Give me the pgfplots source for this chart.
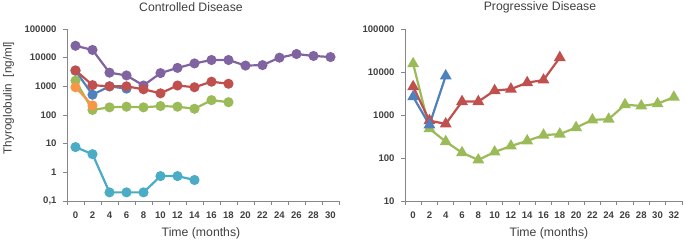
\documentclass[border=0pt]{standalone}
\usepackage{pgfplots}
\pgfplotsset{compat=1.18}
\usepackage{fontspec}
\setmainfont{Liberation Sans}
\definecolor{xblue}{HTML}{4F81BD}
\definecolor{xred}{HTML}{C0504D}
\definecolor{xgreen}{HTML}{9BBB59}
\definecolor{xpurple}{HTML}{8064A2}
\definecolor{xteal}{HTML}{4BACC6}
\definecolor{xorange}{HTML}{F79646}
\definecolor{axisgray}{HTML}{868686}
\definecolor{txt}{HTML}{404040}
\pgfplotsset{
  lc/.style={line width=2.2bp, mark=*, mark size=3.9bp, mark options={solid}},
  lt/.style={line width=2.2bp, mark=triangle*, mark size=4.7bp, mark options={solid}},
}
\begin{document}
\begin{tikzpicture}
\useasboundingbox (0,0) rectangle (685bp,244bp);
% Left panel
\begin{axis}[at={(67bp,43bp)}, anchor=south west, scale only axis, width=272bp, height=172bp,
  ymode=log, log basis y=10,
  axis x line*=bottom, axis y line*=left,
  axis line style={draw=axisgray, line width=0.8bp, -},
  tick align=outside, major tick length=4bp, minor tick length=4bp,
  tick style={draw=axisgray, line width=0.8bp},
  major x tick style={draw=none},
  minor y tick num=0,
  ticklabel style={font=\fontsize{9.6}{10}\selectfont\bfseries, color=txt},
  xticklabel style={yshift=-3bp},
  yticklabel style={xshift=-3bp},
  clip=false,
  xmin=-1, xmax=31, ymin=0.1, ymax=100000,
  xtick={0,2,...,30}, xticklabels={0,2,4,6,8,10,12,14,16,18,20,22,24,26,28,30},
  minor xtick={-1,1,...,31},
  ytick={0.1,1,10,100,1000,10000,100000},
  yticklabels={{0,1},1,10,100,1000,10000,100000},
]
\addplot[lc, color=xpurple] coordinates {(0,26000)(2,18600)(4,3000)(6,2400)(8,1070)(10,2900)(12,4400)(14,6300)(16,8300)(18,8300)(20,5300)(22,5500)(24,10000)(26,13400)(28,11500)(30,10500)};
\addplot[lc, color=xblue] coordinates {(0,3500)(2,510)(4,1000)(6,830)};
\addplot[lc, color=xred] coordinates {(0,3600)(2,1100)(4,1000)(6,1000)(8,790)(10,570)(12,1070)(14,930)(16,1450)(18,1230)};
\addplot[lc, color=xgreen] coordinates {(0,1580)(2,150)(4,185)(6,195)(8,185)(10,205)(12,195)(14,165)(16,330)(18,280)};
\addplot[lc, color=xorange] coordinates {(0,930)(2,215)};
\addplot[lc, color=xteal] coordinates {(0,7.6)(2,4.3)(4,0.2)(6,0.2)(8,0.2)(10,0.74)(12,0.74)(14,0.54)};
\end{axis}
% Right panel
\begin{axis}[at={(405bp,43bp)}, anchor=south west, scale only axis, width=277bp, height=172bp,
  ymode=log, log basis y=10,
  axis x line*=bottom, axis y line*=left,
  axis line style={draw=axisgray, line width=0.8bp, -},
  tick align=outside, major tick length=4bp, minor tick length=4bp,
  tick style={draw=axisgray, line width=0.8bp},
  major x tick style={draw=none},
  minor y tick num=0,
  ticklabel style={font=\fontsize{9.6}{10}\selectfont\bfseries, color=txt},
  xticklabel style={yshift=-3bp},
  yticklabel style={xshift=-3bp},
  clip=false,
  xmin=-1, xmax=33, ymin=10, ymax=100000,
  xtick={0,2,...,32}, xticklabels={0,2,4,6,8,10,12,14,16,18,20,22,24,26,28,30,32},
  minor xtick={-1,1,...,33},
  ytick={10,100,1000,10000,100000},
  yticklabels={10,100,1000,10000,100000},
]
\addplot[lt, color=xgreen] coordinates {(0,15600)(2,480)(4,240)(6,133)(8,90)(10,138)(12,190)(14,250)(16,340)(18,360)(20,510)(22,770)(24,800)(26,1740)(28,1620)(30,1830)(32,2600)};
\addplot[lt, color=xred] coordinates {(0,4550)(2,740)(4,620)(6,2050)(8,2050)(10,3700)(12,4000)(14,5650)(16,6500)(18,21600)};
\addplot[lt, color=xblue] coordinates {(0,2650)(2,590)(4,8100)};
\end{axis}
% Titles and labels
\node[font=\fontsize{12.3}{14}\selectfont, color=txt] at (191bp,237bp) {Controlled Disease};
\node[font=\fontsize{12.3}{14}\selectfont, color=txt] at (540bp,237bp) {Progressive Disease};
\node[font=\fontsize{12.3}{14}\selectfont, color=txt] at (201bp,11bp) {Time (months)};
\node[font=\fontsize{12.3}{14}\selectfont, color=txt] at (549bp,11bp) {Time (months)};
\node[font=\fontsize{11.8}{13}\selectfont, color=txt, rotate=90] at (8.5bp,146bp) {Thyroglobulin\ \ [ng/ml]};
\end{tikzpicture}
\end{document}
